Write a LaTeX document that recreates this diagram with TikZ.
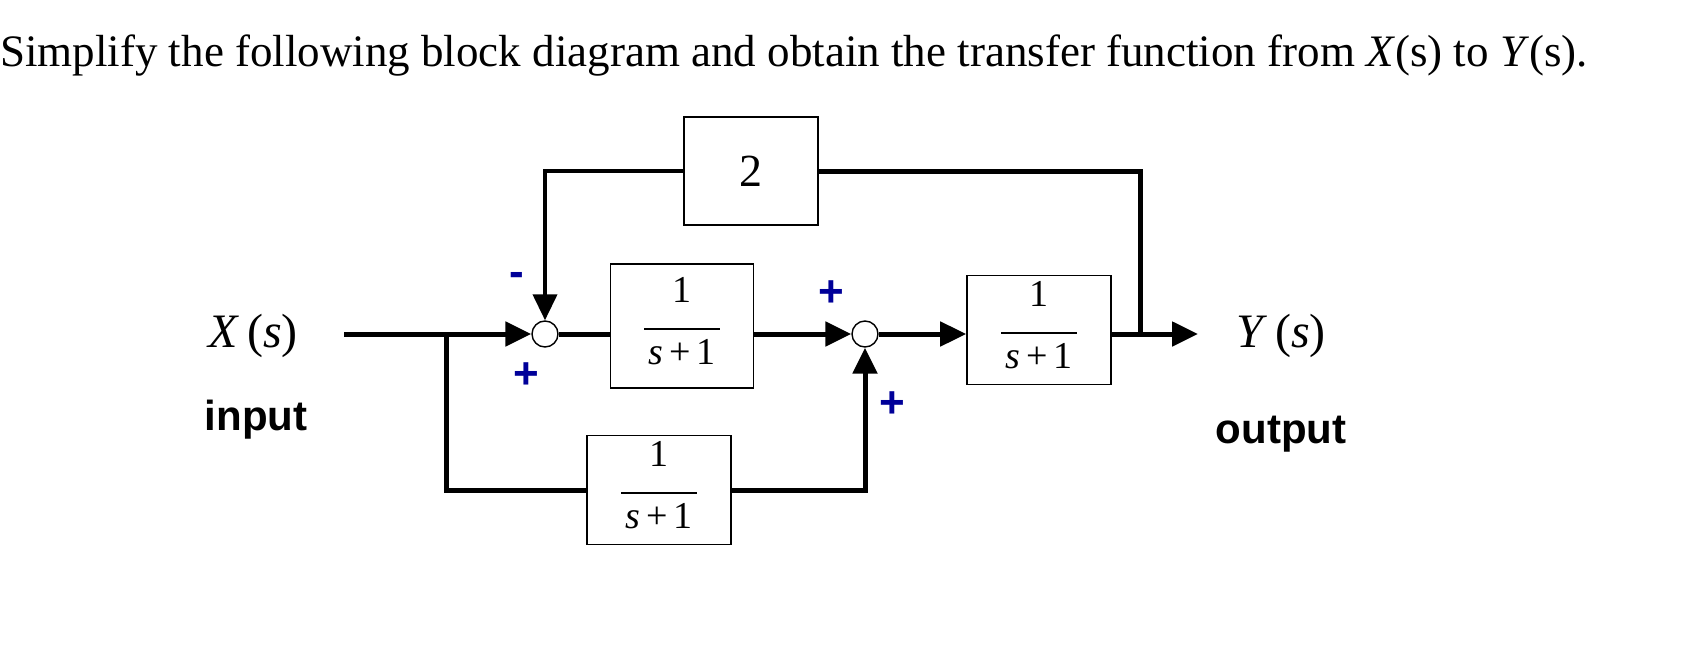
\documentclass[tikz,border=0pt]{standalone}
\usepackage{fontspec}
\setmainfont{Liberation Serif}
\newfontfamily\lsans{Liberation Sans}
\usetikzlibrary{arrows.meta}
\newcommand{\myfrac}{\fontsize{38}{36}\selectfont\begin{tabular}{@{}c@{}}1\\[-8pt]\rule{76pt}{2.5pt}\\[-2pt]\textit{s}\,+\,1\end{tabular}}
\begin{document}
\begin{tikzpicture}[x=1pt,y=-1pt,
  blk/.style={draw,line width=1.6pt,inner sep=0pt},
  sumj/.style={draw,circle,line width=1.4pt,minimum size=26pt,inner sep=0pt,fill=white},
  wire/.style={line width=5pt},
  arr/.style={wire,-{Triangle[length=26pt,width=24pt]}},
  sgn/.style={text=blue!60!black,font=\lsans\bfseries\fontsize{44}{44}\selectfont},
  lbl/.style={font=\lsans\bfseries\fontsize{42}{42}\selectfont}]
\useasboundingbox (0,0) rectangle (1687,645);
\node[anchor=base west,font=\fontsize{45}{50}\selectfont,inner sep=0pt] (title) at (0,66) {Simplify the following block diagram and obtain the transfer function from \textit{X}(s) to \textit{Y}(s).};
\node[blk,minimum width=134pt,minimum height=108pt] (g2) at (751,171) {\fontsize{46}{46}\selectfont 2};
\node[blk,minimum width=143pt,minimum height=124pt] (b1) at (682,326) {};
\node at (b1) {\myfrac};
\node[blk,minimum width=144pt,minimum height=109pt] (b3) at (1039,330) {};
\node at (b3) {\myfrac};
\node[blk,minimum width=144pt,minimum height=109pt] (b2) at (659,490) {};
\node at (b2) {\myfrac};
\node[sumj] (s1) at (545,334) {};
\node[sumj] (s2) at (865,334) {};
\coordinate (in) at (344,334);
\coordinate (br) at (446,334);
\coordinate (tap) at (1140,334);
\coordinate (out) at (1198,334);
\draw[arr] (in) -- (s1.west);
\draw[wire] (s1.east) -- (s1.east -| b1.west);
\draw[arr] (s2.west -| b1.east) -- (s2.west);
\draw[arr] (s2.east) -- (s2.east -| b3.west);
\draw[arr] (out -| b3.east) -- (out);
\draw[wire] (tap) |- (g2.east);
\draw[arr,line width=4pt] (g2.west) -| (s1.north);
\draw[wire] (br) |- (b2.west);
\draw[arr] (b2.east) -| (s2.south);
\node[font=\fontsize{48}{48}\selectfont] (xs) at (253,336) {\textit{X}\,(\textit{s})};
\node[font=\fontsize{48}{48}\selectfont] (ys) at (1281,336) {\textit{Y}\,(\textit{s})};
\node[lbl] (inp) at (256,420) {input};
\node[lbl] (outp) at (1281,434) {output};
\node[sgn] (m1) at (517,279) {-};
\node[sgn] (p1) at (526,376) {+};
\node[sgn] (p2) at (831,294) {+};
\node[sgn] (p3) at (892,405) {+};
\end{tikzpicture}
\end{document}
